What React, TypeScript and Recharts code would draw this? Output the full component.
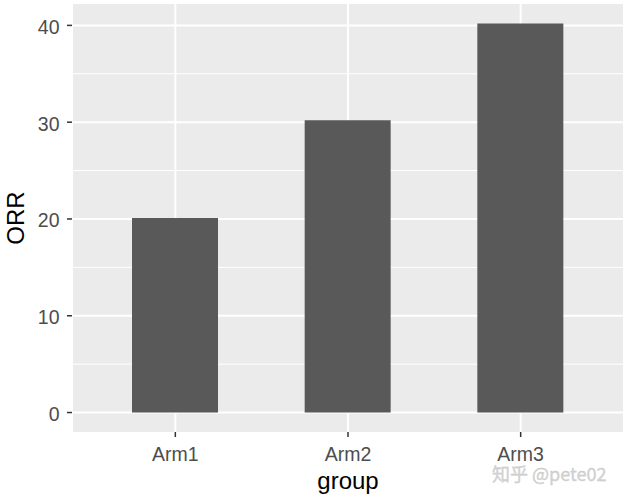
import React from 'react';
import { BarChart, Bar, XAxis, YAxis, CartesianGrid, Label } from 'recharts';

const GROUPS = ['Arm1', 'Arm2', 'Arm3'];
const ORR = [20.1, 30.2, 40.2];
const MAJOR_TICKS = [0, 10, 20, 30, 40];
const MINOR_TICKS = [5, 15, 25, 35];

const data = GROUPS.map((group, i) => ({ group, ORR: ORR[i] }));

const FONT = "'Liberation Sans', Arial, sans-serif";

const XTick = (props: any) => {
  const { x, y, payload } = props;
  return (
    <g>
      <line x1={x} x2={x} y1={y} y2={y + 5} stroke="#333333" strokeWidth={1.5} />
      <text x={x} y={y + 29} textAnchor="middle" fill="#4D4D4D" fontSize={19.5} fontFamily={FONT}>
        {payload.value}
      </text>
    </g>
  );
};

const YTick = (props: any) => {
  const { x, y, payload } = props;
  return (
    <g>
      <line x1={x - 5} x2={x} y1={y} y2={y} stroke="#333333" strokeWidth={1.5} />
      <text x={x - 12.5} y={y + 8.5} textAnchor="end" fill="#4D4D4D" fontSize={19.5} fontFamily={FONT}>
        {payload.value}
      </text>
    </g>
  );
};

export default function App() {
  return (
    <div style={{ position: 'absolute', left: 0, top: 0, width: 628, height: 503, background: '#fff' }}>
      <BarChart
        width={628}
        height={503}
        data={data}
        margin={{ top: 4, right: 4, bottom: 0, left: 0 }}
      >
        <CartesianGrid
          fill="#EBEBEB"
          stroke="#FFFFFF"
          strokeWidth={2}
          horizontalValues={MAJOR_TICKS}
        />
        <CartesianGrid
          stroke="#FFFFFF"
          strokeWidth={1}
          vertical={false}
          horizontalValues={MINOR_TICKS}
        />
        <XAxis
          dataKey="group"
          type="category"
          height={71}
          padding={{ left: 17, right: 17 }}
          axisLine={false}
          tickLine={false}
          tickSize={0}
          tickMargin={0}
          tick={<XTick />}
          interval={0}
        >
          <Label
            content={({ viewBox }: any) => (
              <text
                x={viewBox.x + viewBox.width / 2}
                y={viewBox.y + 57}
                textAnchor="middle"
                fill="#000000"
                fontSize={24}
                fontFamily={FONT}
              >
                group
              </text>
            )}
          />
        </XAxis>
        <YAxis
          type="number"
          width={72}
          domain={[-2.01, 42.21]}
          ticks={MAJOR_TICKS}
          allowDataOverflow
          axisLine={false}
          tickLine={false}
          tickSize={0}
          tickMargin={0}
          tick={<YTick />}
        >
          <Label
            content={({ viewBox }: any) => {
              const cx = viewBox.x + 24;
              const cy = viewBox.y + viewBox.height / 2;
              return (
                <text
                  x={cx}
                  y={cy}
                  transform={`rotate(-90 ${cx} ${cy})`}
                  textAnchor="middle"
                  fill="#000000"
                  fontSize={24}
                  fontFamily={FONT}
                >
                  ORR
                </text>
              );
            }}
          />
        </YAxis>
        <Bar dataKey="ORR" fill="#595959" barSize={86} isAnimationActive={false} />
      </BarChart>
      <svg
        width={628}
        height={503}
        style={{ position: 'absolute', left: 0, top: 0, pointerEvents: 'none' }}
      >
        <text
          x={492}
          y={481}
          fill="#D4D4D4"
          stroke="#C4C4C4"
          strokeWidth={0.3}
          fontSize={18}
          fontFamily="'Noto Sans CJK SC', 'Liberation Sans', sans-serif"
        >
          知乎 @pete02
        </text>
      </svg>
    </div>
  );
}
